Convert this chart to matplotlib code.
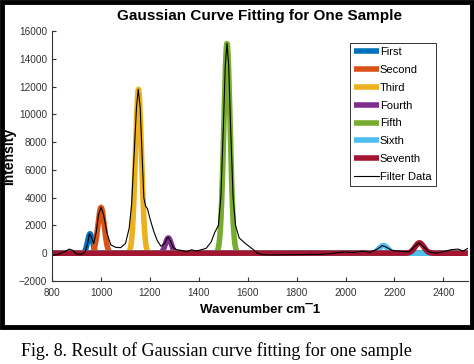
import numpy as np
import matplotlib
matplotlib.use("Agg")
import matplotlib.pyplot as plt
from matplotlib.patches import Rectangle

# ---- data ----
names = ["First", "Second", "Third", "Fourth", "Fifth", "Sixth", "Seventh"]
colors = ["#0072BD", "#D95319", "#EDB120", "#7E2F8E", "#77AC30", "#4DBEEE", "#A2142F"]
centers = [955, 1000, 1153, 1275, 1515, 2155, 2302]      # cm^-1
heights = [1400, 3300, 11800, 1100, 15100, 550, 750]
sigmas = [10, 13, 12.5, 12, 13, 18, 18]

filt_x = [800, 820, 850, 870, 885, 900, 920, 935, 945, 952, 960, 970, 980, 990,
          1000, 1010, 1025, 1040, 1060, 1080, 1100, 1115, 1125, 1135, 1145, 1152,
          1160, 1168, 1175, 1182, 1190, 1200, 1215, 1230, 1245, 1260, 1268, 1275,
          1283, 1295, 1310, 1330, 1350, 1370, 1390, 1410, 1430, 1450, 1465, 1480,
          1490, 1500, 1508, 1515, 1522, 1530, 1540, 1550, 1565, 1590, 1620, 1640,
          1660, 1700, 1800, 1900, 1950, 2000, 2030, 2070, 2100, 2130, 2150, 2165,
          2190, 2220, 2260, 2280, 2300, 2320, 2340, 2370, 2400, 2430, 2460, 2480, 2500]
filt_y = [-150, -100, 100, 300, 200, -50, -80, 100, 700, 1400, 1200, 700, 1500, 2800,
          3300, 2800, 1400, 600, 420, 400, 700, 1800, 3500, 7000, 10500, 11800,
          10500, 7000, 4000, 3400, 3200, 2500, 1600, 900, 500, 700, 1000, 1150,
          900, 400, 250, 200, 100, 250, 150, 250, 350, 800, 1500, 2000,
          4000, 9000, 13500, 15100, 13500, 9000, 4000, 2000, 1100, 700, 300, 0,
          -100, -120, -100, -80, 0, 100, 50, 150, 50, 300, 550, 450,
          200, 150, 100, 450, 750, 450, 100, 0, 100, 250, 300, 150, 350]

xticks = [800, 1000, 1200, 1400, 1600, 1800, 2000, 2200, 2400]
yticks = [-2000, 0, 2000, 4000, 6000, 8000, 10000, 12000, 14000, 16000]

plt.rcParams["font.family"] = ["Liberation Sans", "DejaVu Sans"]

fig = plt.figure(figsize=(4.74, 3.64), dpi=100)
ax = fig.add_axes([0.110, 0.228, 0.877, 0.687])

xs = np.linspace(800, 2500, 1200)
for n, c, mu, h, s in zip(names, colors, centers, heights, sigmas):
    ax.plot(xs, h * np.exp(-0.5 * ((xs - mu) / s) ** 2), color=c, lw=4,
            label=n, solid_capstyle="butt")
ax.plot(filt_x, filt_y, color="k", lw=0.8, label="Filter Data")

ax.set_xlim(800, 2500)
ax.set_ylim(-2000, 16000)
ax.set_xticks(xticks)
ax.set_yticks(yticks)
ax.tick_params(direction="in", length=3, labelsize=7.2, colors="#333333")
ax.tick_params(axis="x", pad=5)
for sp in ("top", "right"):
    ax.spines[sp].set_visible(False)
for sp in ("left", "bottom"):
    ax.spines[sp].set_color("#333333")
    ax.spines[sp].set_linewidth(0.8)

ax.set_title("Gaussian Curve Fitting for One Sample", fontsize=11, fontweight="bold", pad=8)
ax.set_ylabel("Intensity", fontsize=10, fontweight="bold", labelpad=2)
ax.set_xlabel("Wavenumber cm¯1", fontsize=9.5, fontweight="bold", labelpad=4)

leg = ax.legend(loc="upper right", bbox_to_anchor=(0.923, 0.952), fontsize=8,
                handlelength=2.2, handletextpad=0.1, labelspacing=0.7,
                borderpad=0.4, borderaxespad=0, fancybox=False, framealpha=1,
                edgecolor="#333333")
leg.get_frame().set_linewidth(0.7)

# black frame around the chart, caption below
fig.patches.append(Rectangle((0.004, 1 - 327 / 364), 0.992, 327 / 364 - 0.005,
                             transform=fig.transFigure, fill=False, lw=3.5, ec="k"))
fig.text(0.456, 1 - 351 / 364, "Fig. 8. Result of Gaussian curve fitting for one sample",
         ha="center", va="center", fontsize=13, family="Liberation Serif")

fig.savefig("out.png", dpi=100)
